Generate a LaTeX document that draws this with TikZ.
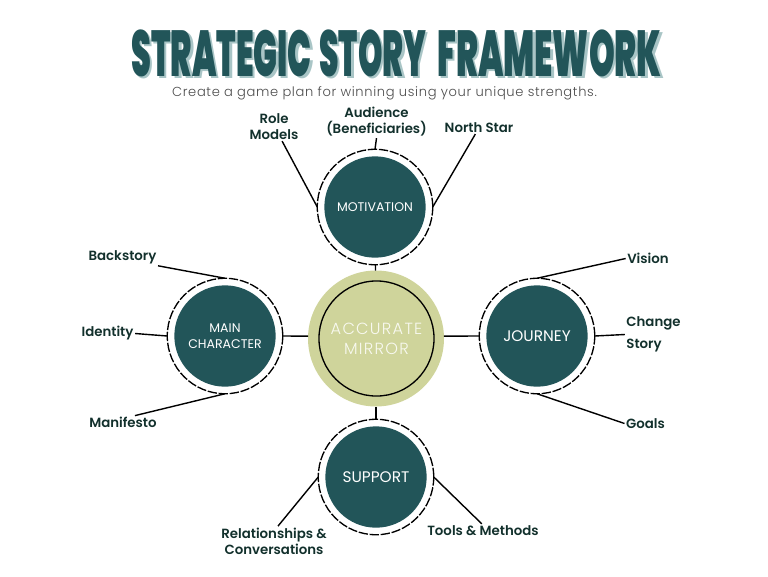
\documentclass[tikz,border=0pt]{standalone}
\usepackage{fontspec}
\setmainfont{Poppins}
\newfontfamily\labelfont{Poppins SemiBold}
\newfontfamily\thinfont[LetterSpace=8]{Poppins Light}
\newfontfamily\subfont[LetterSpace=5]{Poppins Light}
\newfontfamily\titlefont{Poppins Black}
\definecolor{teal}{HTML}{225559}
\definecolor{paleteal}{HTML}{A9C5C6}
\definecolor{khaki}{HTML}{CFD49B}
\definecolor{ink}{HTML}{12302C}
\tikzset{
    disc/.style={circle,fill=teal,text=white,minimum size=76pt,inner sep=0pt,outer sep=0pt,align=center,font=\fontsize{9.4}{12}\selectfont},
    bigdisc/.style={disc,font=\fontsize{11.5}{13}\selectfont},
    ring/.style={circle,draw,line width=1pt,dash pattern=on 7pt off 1.3pt,minimum size=86.6pt,inner sep=0pt,outer sep=0pt},
    tag/.style={text=ink,align=center,inner sep=1pt,font=\fontsize{10}{12}\labelfont},
    link/.style={line width=1.05pt},
}
\newcommand{\titleword}[2]{\resizebox{#1}{35pt}{\titlefont #2}}
\newcommand{\titletext}{\titleword{135pt}{STRATEGIC}\hspace{6pt}\titleword{80pt}{STORY}\hspace{8.5pt}\titleword{168pt}{FRAMEWORK}}
\begin{document}
\begin{tikzpicture}[x=0.75pt,y=-0.75pt]
\useasboundingbox (0,0) rectangle (768,576);
\node[text=paleteal,inner sep=0pt] (shadow) at (399,55.5) {\titletext};
\node[text=teal,inner sep=0pt] (title) at (396.5,53.5) {\titletext};
\node[text=black!70,inner sep=0pt,font=\fontsize{9.8}{11}\subfont] (subtitle) at (384.5,93) {Create a game plan for winning using your unique strengths.};

\node[circle,fill=khaki,minimum size=102pt,inner sep=0pt,outer sep=0pt] (accurate) at (376,338.5) {};
\node[circle,draw,line width=1pt,minimum size=86.3pt,inner sep=0pt,outer sep=0pt,align=center,text=white!85!khaki,font=\fontsize{12.1}{15}\thinfont] (mirror) at (376.5,338.5) {ACCURATE\\MIRROR};

\node[ring] (motivationring) at (375,207) {};
\node[disc] (motivation) at (375,207) {MOTIVATION};
\node[ring] (characterring) at (225,336) {};
\node[disc] (character) at (225,336) {MAIN\\CHARACTER};
\node[ring] (journeyring) at (537,336) {};
\node[bigdisc] (journey) at (537,336) {JOURNEY};
\node[ring] (supportring) at (376,477) {};
\node[bigdisc] (support) at (376,477) {SUPPORT};

\node[tag] (rolemodels) at (274,126.5) {Role\\Models};
\node[tag] (audience) at (376.5,122) {Audience\\(Beneficiaries)};
\node[tag] (northstar) at (479,127.5) {North Star};
\node[tag] (backstory) at (122.5,257.5) {Backstory};
\node[tag] (identity) at (107.5,333.5) {Identity};
\node[tag] (manifesto) at (123,422.5) {Manifesto};
\node[tag] (vision) at (648,258.5) {Vision};
\node[tag,font=\fontsize{10}{16.5}\labelfont,align=left] (changestory) at (653.5,334.5) {Change\\Story};
\node[tag] (goals) at (645.5,423.5) {Goals};
\node[tag] (relationships) at (274,541) {Relationships \&\\Conversations};
\node[tag] (tools) at (483,530.5) {Tools \& Methods};

\draw[link] (motivationring) -- (accurate);
\draw[link] (characterring.east) -- (accurate.178);
\draw[link] (journeyring.west) -- (accurate.2);
\draw[link] (supportring) -- (accurate);

\draw[link] (rolemodels.-61) -- (motivationring.west);
\draw[link] (audience.south) -- (motivationring.north);
\draw[link] (northstar.-119) -- (motivationring.east);
\draw[link] (backstory.south east) -- (characterring.north);
\draw[link] (identity.east) -- (characterring.west);
\draw[link] (manifesto.30) -- (characterring.south);
\draw[link] (vision.west) -- (journeyring.north);
\draw[link] (changestory.west) -- (journeyring.east);
\draw[link] (goals.west) -- (journeyring.south);
\draw[link] (relationships.75) -- (supportring.west);
\draw[link] (tools.100) -- (supportring.east);
\end{tikzpicture}
\end{document}
